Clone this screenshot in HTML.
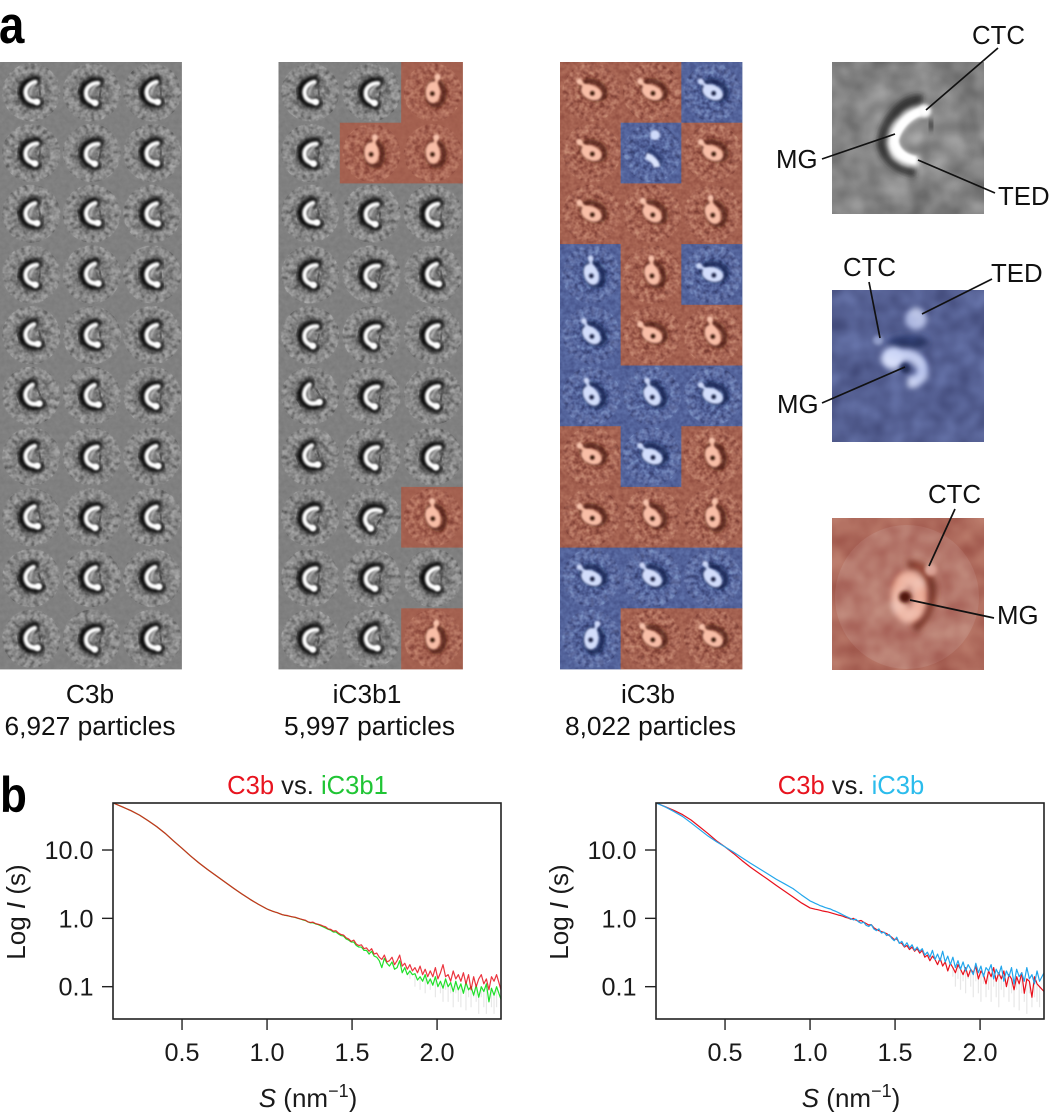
<!DOCTYPE html>
<html lang="en">
<head>
<meta charset="utf-8">
<title>C3b, iC3b1 and iC3b class averages and scattering curves</title>
<style>
html,body{margin:0;padding:0;background:#fff;}
svg{display:block;font-family:"Liberation Sans",sans-serif;}
.lbl{font-size:25.8px;fill:#111;}
.lead{stroke:#111;stroke-width:1.7;fill:none;}
.tick{font-size:25.2px;fill:#1a1a1a;}
.title{font-size:26px;fill:#1a1a1a;}
.panel{font-weight:700;fill:#000;}
</style>
</head>
<body>
<svg id="figure" width="1050" height="1112" viewBox="0 0 1050 1112" xmlns="http://www.w3.org/2000/svg">
<defs>
  <filter id="b1" x="-40%" y="-40%" width="180%" height="180%"><feGaussianBlur stdDeviation="1.1"/></filter>
  <filter id="b2" x="-40%" y="-40%" width="180%" height="180%"><feGaussianBlur stdDeviation="1.8"/></filter>
  <filter id="b3" x="-60%" y="-60%" width="220%" height="220%"><feGaussianBlur stdDeviation="3"/></filter>
  <filter id="b5" x="-60%" y="-60%" width="220%" height="220%"><feGaussianBlur stdDeviation="5"/></filter>
  <filter id="noise" x="0" y="0" width="100%" height="100%" color-interpolation-filters="sRGB">
    <feTurbulence type="fractalNoise" baseFrequency="0.2" numOctaves="2" seed="7"/>
    <feColorMatrix type="matrix" values="1.6 0 0 0 -0.3  1.6 0 0 0 -0.3  1.6 0 0 0 -0.3  0 0 0 0 1"/>
  </filter>
  <filter id="noise-soft" x="0" y="0" width="100%" height="100%" color-interpolation-filters="sRGB">
    <feTurbulence type="fractalNoise" baseFrequency="0.045" numOctaves="2" seed="11"/>
    <feColorMatrix type="matrix" values="1.6 0 0 0 -0.3  1.6 0 0 0 -0.3  1.6 0 0 0 -0.3  0 0 0 0 1"/>
  </filter>
  <clipPath id="clip-inset-1"><rect x="832" y="62" width="152" height="152"/></clipPath>
  <clipPath id="clip-inset-2"><rect x="832" y="290" width="152" height="152"/></clipPath>
  <clipPath id="clip-inset-3"><rect x="832" y="518" width="152" height="152"/></clipPath>

  <g id="particle-grey">
    <circle r="24" fill="none" stroke="#a6a6a6" stroke-width="9" stroke-dasharray="3.2 3.8" opacity=".6" filter="url(#b1)"/>
    <circle r="17" fill="none" stroke="#666" stroke-width="5" stroke-dasharray="3 3" opacity=".45" filter="url(#b1)"/>
    <path d="M5,-11 C-4,-11 -9,-4 -8,1 C-7,8 -2,11 6,11" fill="none" stroke="#050505" stroke-width="10.5" stroke-linecap="round" opacity=".9" filter="url(#b2)"/>
    <path d="M8,-3 L9,4" fill="none" stroke="#333" stroke-width="5" opacity=".7" filter="url(#b2)"/>
    <path d="M3,-7 L-1,2 L4,7" fill="#7a7a7a" stroke="none" filter="url(#b1)"/>
    <path d="M5,-10 C-2,-9 -6,-4 -5.5,1 C-5,7 -1,9 5,10" fill="none" stroke="#fff" stroke-width="4.6" stroke-linecap="round" filter="url(#b1)"/>
    <path d="M5,-9 C1,-5 -2,-1 -1,3" fill="none" stroke="#d8d8d8" stroke-width="2" opacity=".8" filter="url(#b1)"/>
    <circle cx="5" cy="10" r="3.2" fill="#fff" filter="url(#b1)"/>
  </g>
  <g id="particle-red">
    <circle r="24" fill="none" stroke="#c98b78" stroke-width="9" stroke-dasharray="3.2 3.8" opacity=".35" filter="url(#b1)"/>
    <ellipse cx="1" cy="-3" rx="12" ry="8" transform="rotate(25)" fill="none" stroke="#441708" stroke-width="5" opacity=".8" filter="url(#b2)"/>
    <path d="M-12,-11 L-3,-3" stroke="#f6b9a0" stroke-width="3.6" filter="url(#b1)"/>
    <circle cx="-12" cy="-11" r="3" fill="#f9c5ae" filter="url(#b1)"/>
    <ellipse rx="8.5" ry="5" transform="rotate(25)" fill="#f8bda6" stroke="#f8bda6" stroke-width="4.6" filter="url(#b1)"/>
    <circle cx="1" cy="1" r="2.3" fill="#2e0c05" filter="url(#b1)"/>
  </g>
  <g id="particle-blue">
    <circle r="24" fill="none" stroke="#8391c0" stroke-width="9" stroke-dasharray="3.2 3.8" opacity=".4" filter="url(#b1)"/>
    <ellipse cx="1" cy="-3" rx="12" ry="8" transform="rotate(25)" fill="none" stroke="#0f1c4a" stroke-width="5" opacity=".85" filter="url(#b2)"/>
    <path d="M-12,-11 L-3,-3" stroke="#c6d3f7" stroke-width="3.2" filter="url(#b1)"/>
    <circle cx="-12" cy="-11" r="2.8" fill="#cfdafa" filter="url(#b1)"/>
    <ellipse rx="8.5" ry="5" transform="rotate(25)" fill="#d2ddfb" stroke="#d2ddfb" stroke-width="4.6" filter="url(#b1)"/>
    <circle cx="1" cy="1" r="2.3" fill="#081238" filter="url(#b1)"/>
  </g>
  <g id="particle-blue-split">
    <circle r="24" fill="none" stroke="#8391c0" stroke-width="9" stroke-dasharray="3.2 3.8" opacity=".25" filter="url(#b1)"/>
    <path d="M-4,-3 C3,-1 8,4 9,12" fill="none" stroke="#1b2a5c" stroke-width="5" opacity=".75" filter="url(#b2)"/>
    <path d="M-6,3 C-2,4 4,8 5,14" fill="none" stroke="#dbe4fc" stroke-width="6.5" filter="url(#b1)"/>
    <circle cx="3" cy="-18" r="5" fill="#cfdafa" filter="url(#b1)"/>
  </g>
</defs>

<rect width="1050" height="1112" fill="#fff"/>

<text class="panel" transform="translate(-1,43) scale(.86,1)" font-size="53">a</text>
<text class="panel" transform="translate(0,812) scale(.88,1)" font-size="50">b</text>

<g id="galleries"></g>

<g font-size="26.3" fill="#111" text-anchor="middle">
  <text x="90" y="703">C3b</text>
  <text x="90" y="735">6,927 particles</text>
  <text x="367" y="703">iC3b1</text>
  <text x="369.5" y="735">5,997 particles</text>
  <text x="648" y="703">iC3b</text>
  <text x="650.5" y="735">8,022 particles</text>
</g>

<!-- Inset 1: grey -->
<g clip-path="url(#clip-inset-1)">
  <rect x="832" y="62" width="152" height="152" fill="#808080"/>
  <circle cx="906" cy="138" r="58" fill="#8a8a8a" filter="url(#b5)"/>
  <path d="M922,102 C904,100 886,122 884,142 C886,158 900,168 916,170" fill="none" stroke="#1a1a1a" stroke-width="15" opacity=".8" filter="url(#b3)"/>
  <path d="M930,120 L932,130" stroke="#2a2a2a" stroke-width="9" opacity=".6" filter="url(#b3)"/>
  <path d="M926,110 C908,112 895,126 892,142 C893,156 905,161 919,162" fill="none" stroke="#fff" stroke-width="11" filter="url(#b3)"/>
  <path d="M920,112 C908,116 898,128 895,140 C896,152 906,158 916,160" fill="none" stroke="#fff" stroke-width="7" filter="url(#b1)"/>
  <circle cx="925" cy="111" r="6" fill="#fff" filter="url(#b2)"/>
  <circle cx="916" cy="137" r="7" fill="#a0a0a0" filter="url(#b3)"/>
  <rect x="832" y="62" width="152" height="152" filter="url(#noise-soft)" opacity=".2" style="mix-blend-mode:overlay"/>
</g>
<!-- Inset 2: blue -->
<g clip-path="url(#clip-inset-2)">
  <rect x="832" y="290" width="152" height="152" fill="#545f92"/>
  <ellipse cx="908" cy="342" rx="20" ry="7" fill="#2c3768" filter="url(#b3)"/>
  <circle cx="916" cy="319" r="11" fill="#b4bee4" filter="url(#b3)"/>
  <circle cx="878" cy="340" r="5" fill="#909cca" filter="url(#b2)"/>
  <path d="M892,358 C905,350 926,358 922,374 C918,382 912,382 908,382" fill="none" stroke="#c2ccf0" stroke-width="12" filter="url(#b3)"/>
  <circle cx="892" cy="358" r="11" fill="#d0d9f8" filter="url(#b3)"/>
  <circle cx="905" cy="368" r="5" fill="#27325f" filter="url(#b2)"/>
  <rect x="832" y="290" width="152" height="152" filter="url(#noise-soft)" opacity=".2" style="mix-blend-mode:overlay"/>
</g>
<!-- Inset 3: red -->
<g clip-path="url(#clip-inset-3)">
  <rect x="832" y="518" width="152" height="152" fill="#ae6a5c"/>
  <circle cx="907" cy="597" r="72" fill="#b4766a"/>
  <path d="M908,566 C922,562 934,578 931,600 C928,612 922,622 914,628" fill="none" stroke="#7a3526" stroke-width="10" opacity=".85" filter="url(#b3)"/>
  <ellipse cx="909" cy="597" rx="11" ry="19" fill="none" stroke="#efb8a6" stroke-width="14" filter="url(#b3)"/>
  <circle cx="931" cy="570" r="6" fill="#d7988a" filter="url(#b2)"/>
  <circle cx="905" cy="597" r="6" fill="#4e150a" filter="url(#b2)"/>
  <rect x="832" y="518" width="152" height="152" filter="url(#noise-soft)" opacity=".18" style="mix-blend-mode:overlay"/>
</g>

<g>
  <line class="lead" x1="926" y1="110" x2="998" y2="48"/>
  <line class="lead" x1="895" y1="134" x2="822" y2="159"/>
  <line class="lead" x1="918" y1="160" x2="995" y2="193"/>
  <text class="lbl" x="972" y="44">CTC</text>
  <text class="lbl" x="776" y="168">MG</text>
  <text class="lbl" x="998" y="205">TED</text>
  <line class="lead" x1="869" y1="282" x2="880" y2="338"/>
  <line class="lead" x1="992" y1="279" x2="922" y2="314"/>
  <line class="lead" x1="822" y1="403" x2="905" y2="367"/>
  <text class="lbl" x="843" y="276">CTC</text>
  <text class="lbl" x="991" y="282">TED</text>
  <text class="lbl" x="777" y="413">MG</text>
  <line class="lead" x1="955" y1="509" x2="929" y2="566"/>
  <line class="lead" x1="910" y1="600" x2="994" y2="618"/>
  <text class="lbl" x="928" y="503">CTC</text>
  <text class="lbl" x="997" y="624">MG</text>
</g>

<g id="plot-left"></g>
<g id="plot-right"></g>

<text x="307.5" y="794" font-size="25.6" text-anchor="middle"><tspan fill="#e8141f">C3b</tspan><tspan fill="#1a1a1a"> vs. </tspan><tspan fill="#20c535">iC3b1</tspan></text>
<text x="851" y="794" font-size="25.6" text-anchor="middle"><tspan fill="#e8141f">C3b</tspan><tspan fill="#1a1a1a"> vs. </tspan><tspan fill="#2bbcec">iC3b</tspan></text>

<script>
// ---- Chart data ----
const sValues = [0.10,0.15,0.20,0.25,0.30,0.35,0.40,0.45,0.50,0.55,0.60,0.65,0.70,0.75,0.80,0.85,0.90,0.95,
 1.000,1.015,1.030,1.045,1.060,1.075,1.090,1.105,1.120,1.135,
 1.150,1.165,1.180,1.195,1.210,1.225,1.240,1.255,1.270,1.285,
 1.300,1.315,1.330,1.345,1.360,1.375,1.390,1.405,1.420,1.435,
 1.450,1.465,1.480,1.495,1.510,1.525,1.540,1.555,1.570,1.585,
 1.600,1.615,1.630,1.645,1.660,1.675,1.690,1.705,1.720,1.735,
 1.750,1.765,1.780,1.795,1.810,1.825,1.840,1.855,1.870,1.885,
 1.900,1.915,1.930,1.945,1.960,1.975,1.990,2.005,2.020,2.035,
 2.050,2.065,2.080,2.095,2.110,2.125,2.140,2.155,2.170,2.185,
 2.200,2.215,2.230,2.245,2.260,2.275,2.290,2.305,2.320,2.335,
 2.350,2.376];

const c3bLeft = [48.2,42.7,37.6,32.4,26.9,22.1,17.6,13.6,10.6,8.2,6.46,5.19,4.22,3.43,2.79,2.29,1.9,1.6,
 1.37,1.32,1.28,1.24,1.21,1.17,1.13,1.11,1.10,1.07,
 1.05,1.04,1.01,.98,.96,.94,.89,.87,.88,.84,
 .82,.80,.77,.75,.70,.69,.65,.66,.61,.58,
 .57,.52,.50,.46,.48,.42,.40,.41,.36,.37,
 .33,.36,.30,.31,.27,.25,.29,.23,.24,.27,
 .21,.24,.29,.20,.22,.18,.21,.17,.19,.16,
 .20,.15,.18,.14,.17,.14,.19,.13,.16,.21,
 .14,.15,.12,.17,.13,.15,.12,.16,.11,.15,
 .09,.14,.10,.13,.15,.11,.13,.09,.14,.12,
 .15,.09];

const ic3b1Left = [48.2,42.7,37.6,32.4,26.9,22.1,17.6,13.6,10.6,8.2,6.46,5.19,4.22,3.43,2.79,2.29,1.9,1.6,
 1.37,1.32,1.28,1.24,1.21,1.17,1.13,1.11,1.09,1.07,
 1.05,1.03,1.00,.98,.95,.93,.89,.86,.86,.83,
 .81,.78,.75,.72,.69,.67,.63,.63,.59,.56,
 .55,.50,.48,.45,.45,.40,.38,.38,.34,.34,
 .30,.33,.28,.27,.24,.19,.26,.22,.20,.23,
 .18,.19,.24,.16,.19,.15,.17,.15,.155,.125,
 .14,.12,.15,.11,.13,.105,.14,.10,.12,.095,
 .13,.10,.115,.085,.12,.09,.11,.08,.115,.09,
 .10,.075,.105,.07,.10,.085,.11,.06,.095,.075,
 .10,.065];

const c3bRight = [48.2,42.9,37.9,33,27.5,21.9,17.4,13.6,11.1,8.9,7.0,5.6,4.57,3.75,3.05,2.5,2.05,1.68,
 1.42,1.39,1.36,1.34,1.31,1.28,1.26,1.24,1.21,1.18,
 1.15,1.12,1.10,1.07,1.03,1.01,.97,1.00,.94,.91,
 .93,.88,.84,.80,.81,.73,.69,.66,.64,.62,
 .60,.56,.53,.49,.50,.44,.43,.38,.40,.35,
 .38,.33,.36,.31,.34,.27,.29,.24,.28,.25,
 .21,.26,.20,.23,.17,.22,.19,.16,.21,.18,
 .15,.19,.14,.18,.16,.20,.13,.17,.15,.11,
 .17,.14,.19,.12,.16,.13,.17,.10,.15,.13,
 .09,.14,.11,.16,.08,.13,.12,.07,.14,.11,
 .10,.085];

const ic3bRight = [48.2,42.5,36.5,31,25,20,16,13.2,11.1,9.3,7.7,6.4,5.37,4.5,3.75,3.2,2.72,2.2,
 1.80,1.73,1.66,1.60,1.53,1.49,1.44,1.40,1.37,1.31,
 1.27,1.22,1.17,1.12,1.07,1.03,.99,.95,.97,.89,
 .85,.88,.79,.76,.81,.70,.66,.70,.61,.63,
 .56,.58,.51,.47,.53,.43,.46,.39,.44,.37,
 .41,.34,.38,.33,.36,.29,.32,.27,.34,.25,
 .30,.24,.33,.23,.28,.21,.27,.19,.24,.18,
 .23,.17,.21,.18,.15,.22,.16,.20,.14,.19,
 .17,.21,.13,.18,.15,.20,.12,.17,.14,.19,
 .11,.18,.14,.16,.12,.19,.13,.15,.11,.17,
 .12,.16];

// lower limits of the pale error spikes, last 36 samples
const errorLowLeft = [.13,.15,.10,.13,.09,.12,.08,.13,.09,.11,.07,.10,.08,.06,.09,.06,.08,.05,.08,.06,.05,.08,.045,.07,.05,.07,.06,.04,.07,.05,.04,.06,.05,.04,.05,.04];
const errorLowRight = [.14,.10,.13,.09,.12,.08,.13,.10,.07,.12,.08,.06,.11,.07,.09,.06,.10,.07,.05,.09,.07,.10,.06,.08,.05,.09,.045,.08,.06,.04,.08,.05,.07,.06,.05,.07];

const xTickValues = [0.5,1.0,1.5,2.0];
const xTickLabels = ['0.5','1.0','1.5','2.0'];
const yTickValues = [10,1,0.1];
const yTickLabels = ['10.0','1.0','0.1'];
const sDomain = [0.094,2.376];
const logDomain = [1.688,-1.473];

// ---- Gallery layout ----
const c3bKinds = ['ggg','ggg','ggg','ggg','ggg','ggg','ggg','ggg','ggg','ggg'];
const ic3b1Kinds = ['ggr','grr','ggg','ggg','ggg','ggg','ggg','ggr','ggg','ggr'];
const ic3bKinds = ['rrb','rbr','rrr','brb','brr','bbb','rbr','rrr','bbb','brr'];
const c3bAngles = [-5,8,-4, 6,10,2, -6,-8,-3, 4,-10,0, -12,-5,-2, -20,-12,6, -8,4,-6, -10,8,-4, -15,-6,-12, -8,10,-6];
const ic3b1Angles = [-4,10,65, 8,60,60, -12,6,2, 8,14,-6, 12,14,4, -30,10,6, -18,8,10, 12,30,45, 6,8,2, 12,-6,60];
const ic3bAngles = [0,0,0, 0,0,0, 0,12,40, 45,45,-10, 20,0,38, 30,30,0, 0,0,45, 0,25,55, 0,10,20, 70,10,5];

function svgEl(tag, attrs) {
  const el = document.createElementNS('http://www.w3.org/2000/svg', tag);
  for (const k in attrs) el.setAttribute(k, attrs[k]);
  return el;
}

const fills = {g:'#7f7f7f', r:'#a3604f', b:'#52629a'};
const particleRef = {g:'#particle-grey', r:'#particle-red', b:'#particle-blue'};
const cellH = 60.7, galleryTop = 62;

function drawGallery(name, left, width, kinds, angles, splitCells, discNoise, baseNoise) {
  const root = document.getElementById('galleries');
  const group = svgEl('g', {});
  
  
  root.appendChild(group);
  const w = width / 3;
  kinds.forEach(function (rowKinds, row) {
    for (let col = 0; col < 3; col++) {
      const cell = svgEl('rect', {x: left + w * col, y: galleryTop + cellH * row, width: w + 0.4, height: cellH + 0.4, fill: fills[rowKinds[col]]});
      
      
      group.appendChild(cell);
    }
  });
  const maskId = name + '-mask';
  const mask = svgEl('mask', {id: maskId, maskUnits: 'userSpaceOnUse', x: left, y: galleryTop, width: width, height: cellH * 10});
  group.appendChild(mask);
  kinds.forEach(function (rowKinds, row) {
    for (let col = 0; col < 3; col++) {
      const disc = svgEl('circle', {cx: left + w * col + w / 2 + 1, cy: galleryTop + cellH * row + cellH / 2, r: 29, fill: '#fff'});
      
      
      mask.appendChild(disc);
    }
  });
  const wash = svgEl('rect', {x: left, y: galleryTop, width: width, height: cellH * 10, filter: 'url(#noise)', opacity: baseNoise, style: 'mix-blend-mode:overlay'});
  
  
  group.appendChild(wash);
  const texGroup = svgEl('g', {mask: 'url(#' + maskId + ')', style: 'mix-blend-mode:overlay', opacity: discNoise});
  
  
  group.appendChild(texGroup);
  const tex = svgEl('rect', {x: left, y: galleryTop, width: width, height: cellH * 10, filter: 'url(#noise)'});
  
  
  texGroup.appendChild(tex);
  kinds.forEach(function (rowKinds, row) {
    for (let col = 0; col < 3; col++) {
      const kind = rowKinds[col];
      const idx = row * 3 + col;
      const cx = left + w * col + w / 2 + 1;
      const cy = galleryTop + cellH * row + cellH / 2;
      const isSplit = splitCells.indexOf(idx) >= 0;
      const mark = svgEl('use', {href: isSplit ? '#particle-blue-split' : particleRef[kind], transform: 'translate(' + cx + ',' + cy + ') rotate(' + angles[idx] + ')'});
      
      
      group.appendChild(mark);
    }
  });
}

drawGallery('c3b-gallery', 0, 181.5, c3bKinds, c3bAngles, [], .3, .04);
drawGallery('ic3b1-gallery', 278.5, 184, ic3b1Kinds, ic3b1Angles, [], .3, .05);
drawGallery('ic3b-gallery', 560, 182, ic3bKinds, ic3bAngles, [4], .25, .16);

// ---- Plots ----
function drawPlot(hostId, plotLeft, plotRight, series, errorLow, errorIdx) {
  const host = document.getElementById(hostId);
  const plotTop = 803, plotBottom = 1019;
  const xScale = function (s) { return plotLeft + (s - sDomain[0]) / (sDomain[1] - sDomain[0]) * (plotRight - plotLeft); };
  const yScale = function (v) { return plotTop + (Math.log10(v) - logDomain[0]) / (logDomain[1] - logDomain[0]) * (plotBottom - plotTop); };

  const clipId = hostId + '-clip';
  const cp = svgEl('clipPath', {id: clipId});
  cp.appendChild(svgEl('rect', {x: plotLeft, y: plotTop, width: plotRight - plotLeft, height: plotBottom - plotTop}));
  host.appendChild(cp);

  const marks = svgEl('g', {'clip-path': 'url(#' + clipId + ')'});
  
  
  host.appendChild(marks);

  const offset = sValues.length - errorLow.length;
  errorLow.forEach(function (low, i) {
    const s = sValues[offset + i];
    const spike = svgEl('line', {x1: xScale(s), x2: xScale(s), y1: yScale(errorIdx[offset + i]), y2: yScale(low), stroke: '#e2e2e2', 'stroke-width': 1.2, opacity: .8});
    
    
    marks.appendChild(spike);
  });

  series.forEach(function (item) {
    const pts = sValues.map(function (s, i) { return xScale(s).toFixed(2) + ',' + yScale(item.values[i]).toFixed(2); }).join(' ');
    const line = svgEl('polyline', {points: pts, fill: 'none', stroke: item.color, 'stroke-width': 1.2, 'stroke-linejoin': 'round', opacity: item.opacity});
    
    
    marks.appendChild(line);
  });

  const frame = svgEl('rect', {x: plotLeft, y: plotTop, width: plotRight - plotLeft, height: plotBottom - plotTop, fill: 'none', stroke: '#222', 'stroke-width': 1.6});
  
  
  host.appendChild(frame);

  xTickValues.forEach(function (v, i) {
    const tick = svgEl('line', {x1: xScale(v), x2: xScale(v), y1: plotBottom, y2: plotBottom + 11, stroke: '#222', 'stroke-width': 1.4});
    
    
    host.appendChild(tick);
    const label = svgEl('text', {x: xScale(v), y: 1061, 'text-anchor': 'middle', class: 'tick'});
    
    
    label.textContent = xTickLabels[i];
    host.appendChild(label);
  });
  yTickValues.forEach(function (v, i) {
    const tick = svgEl('line', {x1: plotLeft - 11, x2: plotLeft, y1: yScale(v), y2: yScale(v), stroke: '#222', 'stroke-width': 1.4});
    
    
    host.appendChild(tick);
    const label = svgEl('text', {x: plotLeft - 19.5, y: yScale(v) + 9, 'text-anchor': 'end', class: 'tick'});
    
    
    label.textContent = yTickLabels[i];
    host.appendChild(label);
  });

  const xTitle = svgEl('text', {x: plotLeft + 195, y: 1107, 'text-anchor': 'middle', class: 'title'});
  
  
  const xs = svgEl('tspan', {'font-style': 'italic'});
  xs.textContent = 'S';
  xTitle.appendChild(xs);
  xTitle.appendChild(document.createTextNode(' (nm'));
  const sup = svgEl('tspan', {dy: -10, 'font-size': 18});
  sup.textContent = '\u22121';
  xTitle.appendChild(sup);
  const close = svgEl('tspan', {dy: 10});
  close.textContent = ')';
  xTitle.appendChild(close);
  host.appendChild(xTitle);

  const yTitle = svgEl('text', {transform: 'translate(' + (plotLeft - 88) + ',912) rotate(-90)', 'text-anchor': 'middle', class: 'title'});
  
  
  yTitle.appendChild(document.createTextNode('Log '));
  const yi = svgEl('tspan', {'font-style': 'italic'});
  yi.textContent = 'I';
  yTitle.appendChild(yi);
  yTitle.appendChild(document.createTextNode(' (s)'));
  host.appendChild(yTitle);
}

drawPlot('plot-left', 113, 501,
  [{name: 'ic3b1-curve', values: ic3b1Left, color: '#1fe02a', opacity: 1},
   {name: 'c3b-curve', values: c3bLeft, color: '#e8101c', opacity: .85}],
  errorLowLeft, ic3b1Left);
drawPlot('plot-right', 656, 1044,
  [{name: 'c3b-curve', values: c3bRight, color: '#e8101c', opacity: 1},
   {name: 'ic3b-curve', values: ic3bRight, color: '#22a6ec', opacity: 1}],
  errorLowRight, c3bRight);
</script>
</svg>
</body>
</html>
